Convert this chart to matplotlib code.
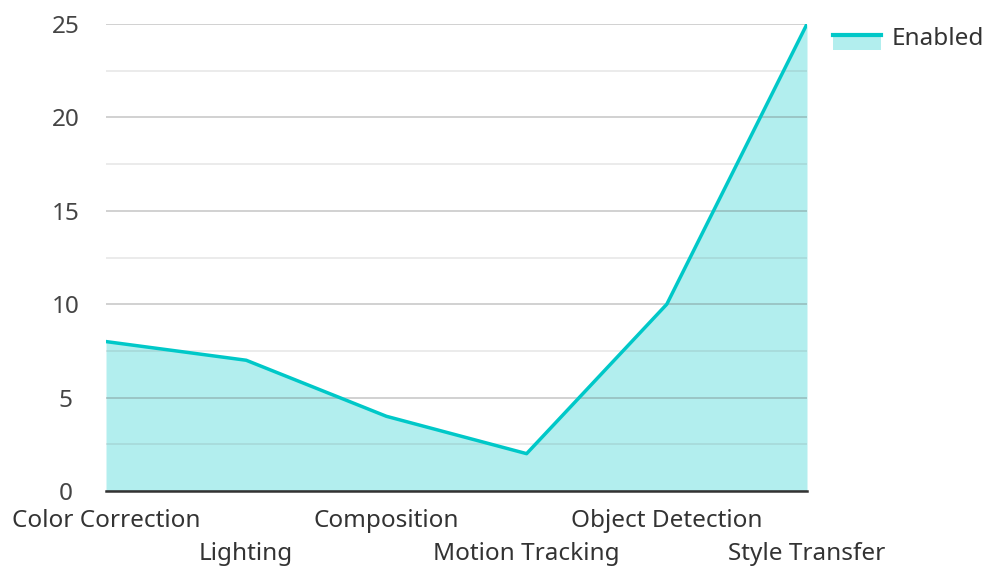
import matplotlib.pyplot as plt
from matplotlib.lines import Line2D
from matplotlib.patches import Patch, Rectangle
from matplotlib.legend_handler import HandlerBase

# data
categories = ['Color Correction', 'Lighting', 'Composition', 'Motion Tracking',
              'Object Detection', 'Style Transfer']
enabled = [8, 7, 4, 2, 10, 25]

line_color = '#00C8C8'
fill_color = '#B2EEEE'

plt.rcParams['font.family'] = ['Noto Sans', 'DejaVu Sans']


class AreaHandler(HandlerBase):
    # filled box with the line on its top edge, sitting a bit below the text centre
    def create_artists(self, legend, orig_handle, xdescent, ydescent,
                       width, height, fontsize, trans):
        shift = -4.3
        y0 = -ydescent + shift
        top = y0 + height * 0.95
        r = Rectangle((-xdescent, y0), width, height * 0.95,
                      facecolor=fill_color, edgecolor='none', transform=trans)
        ln = Line2D([-xdescent, -xdescent + width], [top, top],
                    color=line_color, linewidth=3, transform=trans)
        return [r, ln]


fig = plt.figure(figsize=(9.88, 5.67), dpi=100)
ax = fig.add_axes([0.1073, 0.134, 0.7095, 0.8237])

x = list(range(len(categories)))
ax.fill_between(x, enabled, 0, color=fill_color, zorder=1, linewidth=0)
ax.plot(x, enabled, color=line_color, linewidth=2.5, zorder=3)

ax.set_xlim(0, len(categories) - 1)
ax.set_ylim(0, 25)
ax.set_yticks([0, 5, 10, 15, 20, 25])
ax.set_yticks([2.5, 7.5, 12.5, 17.5, 22.5], minor=True)
ax.grid(axis='y', which='major', color='#666666', alpha=0.35, linewidth=1.2, zorder=2)
ax.grid(axis='y', which='minor', color='#666666', alpha=0.15, linewidth=1.2, zorder=2)
ax.set_axisbelow(False)

ax.set_xticks(x)
ax.set_xticklabels(categories, fontsize=17.5, color='#333333')
ax.tick_params(axis='x', length=0)
# alternate the labels over two rows
for i, t in enumerate(ax.xaxis.get_major_ticks()):
    t.set_pad(13 if i % 2 == 0 else 37)
ax.tick_params(axis='y', length=0, pad=29, labelsize=17.5, labelcolor='#444444')
for lab in ax.get_yticklabels():
    lab.set_horizontalalignment('center')
ax.tick_params(axis='y', which='minor', length=0)

for s in ['top', 'right', 'left']:
    ax.spines[s].set_visible(False)
ax.spines['bottom'].set_color('#333333')
ax.spines['bottom'].set_linewidth(1.8)
ax.spines['bottom'].set_zorder(4)

handle = Patch(facecolor=fill_color)
leg = fig.legend([handle], ['Enabled'], loc='upper left',
                 bbox_to_anchor=(0.833, 0.9695), frameon=False, fontsize=17.5,
                 handler_map={Patch: AreaHandler()},
                 handlelength=2.0, handleheight=0.6, handletextpad=0.42,
                 borderaxespad=0, labelcolor='#333333')

fig.savefig('out.png', dpi=100)
